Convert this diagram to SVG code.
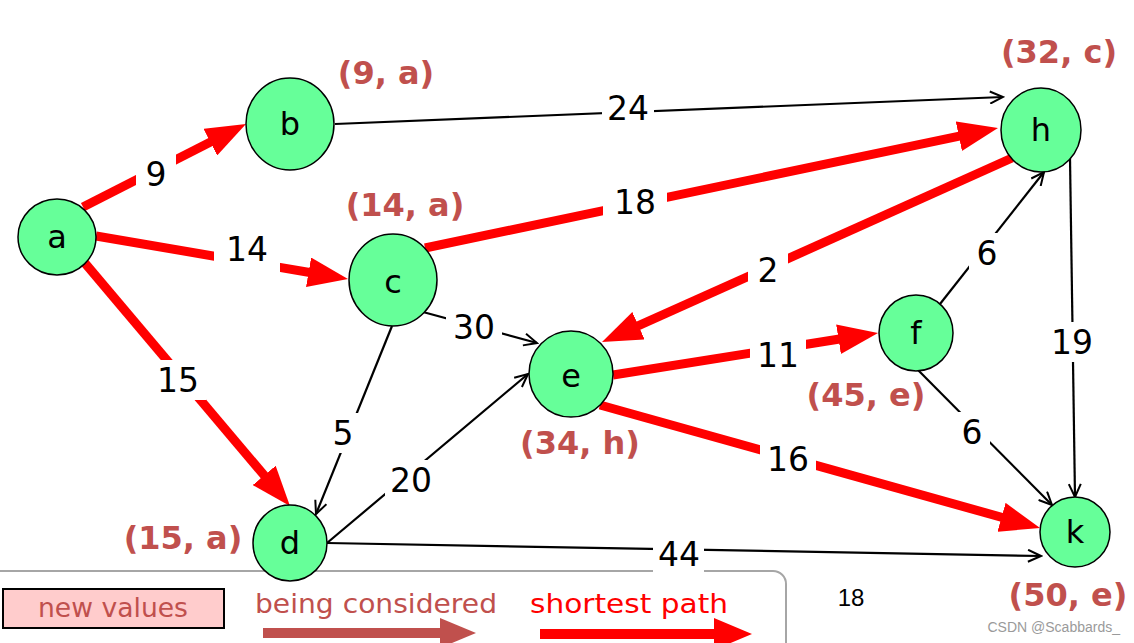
<svg xmlns="http://www.w3.org/2000/svg" width="1134" height="643" viewBox="0 0 1134 643">
<defs>
<style>
.red{stroke:#ff0000;stroke-width:9;fill:none;marker-end:url(#ahr)}
.blk{stroke:#000;stroke-width:2.2;fill:none;marker-end:url(#ahb)}
.nd{fill:#66ff99;stroke:#000;stroke-width:1.5}
.nt{font-family:"DejaVu Sans",sans-serif;font-size:32px;fill:#000;text-anchor:middle;dominant-baseline:central}
.el{font-family:"DejaVu Sans",sans-serif;font-size:33px;fill:#000;text-anchor:middle;dominant-baseline:central}
.vl{font-family:"DejaVu Sans",sans-serif;font-size:32px;font-weight:bold;fill:#c0504d;text-anchor:middle;dominant-baseline:central}
.bg{fill:#fff}
.lg{font-family:"DejaVu Sans",sans-serif;font-size:27px}
</style>
<marker id="ahr" markerUnits="userSpaceOnUse" markerWidth="40" markerHeight="30" refX="25" refY="15" orient="auto"><path d="M0,0 L40,15 L0,30 z" fill="#ff0000"/></marker>
<marker id="ahb" markerUnits="userSpaceOnUse" markerWidth="16" markerHeight="14" refX="14" refY="7" orient="auto"><path d="M1,1 L14,7 L1,13" fill="none" stroke="#000" stroke-width="2"/></marker>
</defs>
<rect width="1134" height="643" fill="#fff"/>

<g id="legend">
<rect x="-20" y="571" width="806" height="120" rx="13" fill="none" stroke="#a6a6a6" stroke-width="2"/>
<rect x="3" y="589" width="221" height="39" fill="#ffcccc" stroke="#000" stroke-width="2"/>
<text class="lg" x="113" y="617" fill="#c0504d" text-anchor="middle" textLength="150" lengthAdjust="spacingAndGlyphs">new values</text>
<text class="lg" x="255" y="613" fill="#c0504d" textLength="242" lengthAdjust="spacingAndGlyphs">being considered</text>
<line x1="263" y1="633" x2="445" y2="633" stroke="#c0504d" stroke-width="10"/>
<path d="M440,618 L476,633 L440,648 z" fill="#c0504d"/>
<text class="lg" x="530" y="613" fill="#ff0000" textLength="198" lengthAdjust="spacingAndGlyphs">shortest path</text>
<line x1="540" y1="634" x2="720" y2="634" stroke="#ff0000" stroke-width="10"/>
<path d="M714,618 L752,634 L714,650 z" fill="#ff0000"/>
<text x="851" y="606" font-family="Liberation Sans, sans-serif" font-size="24" text-anchor="middle" fill="#000">18</text>
<text x="1120" y="632" font-family="Liberation Sans, sans-serif" font-size="14" text-anchor="end" fill="#9a9a9a">CSDN @Scabbards_</text>
</g>

<g id="connectors">
<line class="blk" x1="335" y1="124" x2="1003" y2="97"/>
<line class="blk" x1="423" y1="312" x2="537" y2="343"/>
<line class="blk" x1="392" y1="326" x2="316" y2="514"/>
<line class="blk" x1="327" y1="543" x2="528" y2="374"/>
<line class="blk" x1="327" y1="543" x2="1041" y2="556"/>
<line class="blk" x1="940" y1="304" x2="1044" y2="172"/>
<line class="blk" x1="917" y1="369" x2="1052" y2="505"/>
<line class="blk" x1="1070" y1="158" x2="1075" y2="497"/>

<line class="red" x1="83" y1="207" x2="232.6" y2="130.8"/>
<line class="red" x1="96" y1="236" x2="333.2" y2="276.5"/>
<line class="red" x1="84" y1="262" x2="280.3" y2="494.5"/>
<line class="red" x1="425" y1="248" x2="983.3" y2="131.1"/>
<line class="red" x1="1012" y1="158" x2="615.7" y2="335.9"/>
<line class="red" x1="613" y1="375" x2="863.2" y2="335.3"/>
<line class="red" x1="600" y1="405" x2="1025.6" y2="524"/>

<g id="edge-labels">
<rect class="bg" x="136" y="154" width="40" height="40"/><text class="el" x="156" y="174">9</text>
<rect class="bg" x="602" y="90" width="52" height="36"/><text class="el" x="628" y="108">24</text>
<rect class="bg" x="214" y="228" width="66" height="44"/><text class="el" x="247" y="249">14</text>
<rect class="bg" x="603" y="182" width="64" height="40"/><text class="el" x="635" y="202">18</text>
<rect class="bg" x="150" y="360" width="56" height="40"/><text class="el" x="178" y="380">15</text>
<rect class="bg" x="446" y="309" width="56" height="36"/><text class="el" x="474" y="327">30</text>
<rect class="bg" x="325" y="413" width="36" height="40"/><text class="el" x="343" y="433">5</text>
<rect class="bg" x="385" y="460" width="52" height="40"/><text class="el" x="411" y="480">20</text>
<rect class="bg" x="748" y="250" width="40" height="40"/><text class="el" x="768" y="270">2</text>
<rect class="bg" x="750" y="335" width="56" height="40"/><text class="el" x="778" y="355">11</text>
<rect class="bg" x="760" y="439" width="56" height="40"/><text class="el" x="788" y="459">16</text>
<rect class="bg" x="969" y="233" width="36" height="40"/><text class="el" x="987" y="253">6</text>
<rect class="bg" x="1050" y="322" width="44" height="40"/><text class="el" x="1072" y="342">19</text>
<rect class="bg" x="954" y="412" width="36" height="40"/><text class="el" x="972" y="432">6</text>
<rect class="bg" x="653" y="537" width="51" height="35"/><text class="el" x="679" y="554">44</text>
</g>
</g>

<g id="node-a"><ellipse class="nd" cx="57" cy="237" rx="39" ry="38"/><text class="nt" x="57" y="237">a</text></g>
<g id="node-b"><ellipse class="nd" cx="290" cy="124" rx="44" ry="46"/><text class="nt" x="290" y="124">b</text><text class="vl" x="386" y="73">(9, a)</text></g>
<g id="node-c"><ellipse class="nd" cx="393" cy="280" rx="44" ry="46"/><text class="nt" x="393" y="282">c</text><text class="vl" x="405" y="205">(14, a)</text></g>
<g id="node-d"><ellipse class="nd" cx="290" cy="543" rx="37" ry="38"/><text class="nt" x="290" y="543">d</text><text class="vl" x="183" y="538">(15, a)</text></g>
<g id="node-e"><ellipse class="nd" cx="571" cy="374" rx="42" ry="43"/><text class="nt" x="571" y="376">e</text><text class="vl" x="580" y="443">(34, h)</text></g>
<g id="node-f"><ellipse class="nd" cx="916" cy="333" rx="37" ry="38"/><text class="nt" x="916" y="333">f</text><text class="vl" x="866" y="395">(45, e)</text></g>
<g id="node-h"><ellipse class="nd" cx="1041" cy="130" rx="40" ry="42"/><text class="nt" x="1041" y="130">h</text><text class="vl" x="1059" y="52">(32, c)</text></g>
<g id="node-k"><ellipse class="nd" cx="1075" cy="532" rx="35" ry="35"/><text class="nt" x="1075" y="532">k</text><text class="vl" x="1068" y="595">(50, e)</text></g>
</svg>
